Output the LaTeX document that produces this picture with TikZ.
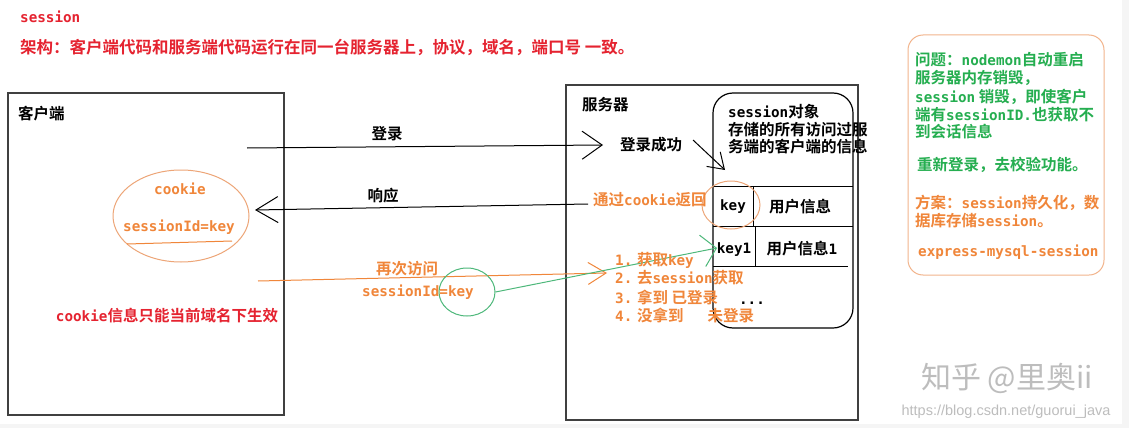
\documentclass[tikz,border=0pt]{standalone}
\usepackage{fontspec}
\setmainfont{Noto Sans CJK SC}[BoldFont={Noto Sans CJK SC Bold}]
\newfontfamily\mono{DejaVu Sans Mono}[Scale=0.92]
\newfontfamily\wmfont{Liberation Sans}
\usetikzlibrary{arrows.meta,shapes.geometric}
\definecolor{cred}{HTML}{E52330}
\definecolor{corg}{HTML}{F0863A}
\definecolor{cgrn}{HTML}{25AE50}
\definecolor{lgrn}{HTML}{4DB87A}
\definecolor{lorg}{HTML}{EDA577}
\definecolor{nbox}{HTML}{F2B48C}
\definecolor{wm}{HTML}{BDBDBD}
\newcommand\lt[1]{{\mono #1}}
\tikzset{
  txt/.style={inner sep=0pt, font=\bfseries\fontsize{15.5}{18}\selectfont},
  lft/.style={txt, anchor=west},
  frame/.style={draw=black!75, line width=1.2pt, inner sep=0pt},
  conn/.style={line width=1pt},
}
\begin{document}
\begin{tikzpicture}[x=1pt,y=-1pt]
\useasboundingbox (0,0) rectangle (1129,428);
\fill[white] (0,0) rectangle (1129,428);
\fill[black!4] (1122,0) rectangle (1129,428);
\fill[black!4] (0,424) rectangle (1129,428);

% header
\node[lft, text=cred] (sessT) at (20,17) {\lt{session}};
\node[lft, text=cred, font=\bfseries\fontsize{16.5}{18}\selectfont] (title) at (20,47)
  {架构：客户端代码和服务端代码运行在同一台服务器上，协议，域名，端口号 一致。};

% boxes
\node[frame, minimum width=276pt, minimum height=322pt] (client) at (146,254) {};
\node[frame, minimum width=292pt, minimum height=335pt] (server) at (712,252.5) {};
\node[draw, line width=1.2pt, rounded corners=20pt, minimum width=140pt, minimum height=235pt, inner sep=0pt] (sbox) at (783,210.5) {};

\node[lft] (lblC) at (18,114) {客户端};
\node[lft] (lblS) at (582,105) {服务器};

% session object text
\node[lft] (sA) at (728,112) {\lt{session}对象};
\node[lft] (sB) at (728,130) {存储的所有访问过服};
\node[lft] (sC) at (728,147) {务端的客户端的信息};

% table
\coordinate (r1L) at (713,186); \coordinate (r1R) at (853,186);
\coordinate (r2L) at (713,226); \coordinate (r2R) at (853,226);
\coordinate (r3L) at (713,266); \coordinate (r3R) at (848,266);
\coordinate (v1T) at (753,186); \coordinate (v1B) at (753,226);
\coordinate (v2T) at (755,226); \coordinate (v2B) at (755,266);
\draw[conn] (r1L) -- (r1R);
\draw[conn] (r2L) -- (r2R);
\draw[conn] (r3L) -- (r3R);
\draw[conn] (v1T) -- (v1B);
\draw[conn] (v2T) -- (v2B);
\node[txt] (key) at (733,207) {\lt{key}};
\node[txt] (info1) at (800,207) {用户信息};
\node[txt] (key1) at (734,250) {\lt{key1}};
\node[txt] (info2) at (802,249) {用户信息\lt{1}};
\node[txt] (dots) at (752,303) {\lt{...}};
\draw[lorg, line width=1pt] (731,205) ellipse [x radius=29pt, y radius=24pt];

% login
\node[txt] (loginL) at (387,134) {登录};
\coordinate (loginS) at (247,148);
\coordinate (loginT) at (603,145);
\draw[conn, -{Straight Barb[length=20pt,width=28pt]}] (loginS) -- (loginT);
\node[lft] (succ) at (620,145) {登录成功};
\coordinate (succS) at (693,140);
\coordinate (succT) at (725,170);
\draw[conn, -{Straight Barb[length=15pt,width=20pt]}] (succS) -- (succT);

% response
\node[lft, text=corg] (ret) at (593,200) {通过\lt{cookie}返回};
\node[txt] (respL) at (383,196) {响应};
\coordinate (respS) at (588,204);
\coordinate (respT) at (255,210);
\draw[conn, -{Straight Barb[length=22pt,width=26pt]}] (respS) -- (respT);

% cookie in client
\draw[lorg, line width=1pt] (181,216) ellipse [x radius=68pt, y radius=46pt];
\node[txt, text=corg] (ck) at (180,189) {\lt{cookie}};
\node[txt, text=corg] (sid) at (179,227) {\lt{sessionId=key}};
\coordinate (ulA) at (127,244);
\coordinate (ulB) at (232,241);
\draw[corg, line width=1pt] (ulA) -- (ulB);
\node[txt, text=cred] (note1) at (167,316) {\lt{cookie}信息只能当前域名下生效};

% second visit
\node[txt, text=corg] (again) at (407,269) {再次访问};
\node[txt, text=corg] (sid2) at (418,292) {\lt{sessionId=key}};
\coordinate (agS) at (258,281);
\coordinate (agT) at (607,273);
\draw[corg, line width=1pt, -{Straight Barb[length=18pt,width=22pt]}] (agS) -- (agT);
\node[draw=lgrn, line width=1pt, ellipse, minimum width=56pt, minimum height=48pt, inner sep=0pt] (gcirc) at (467,292) {};
\coordinate (gT) at (717,248);
\draw[lgrn, line width=1pt, -{Straight Barb[length=14pt,width=32pt]}] (gcirc.east) -- (gT);

% steps
\node[lft, text=corg] (st1) at (615,260) {\lt{1.} 获取\lt{key}};
\node[lft, text=corg] (st2) at (615,278) {\lt{2.} 去\lt{session}获取};
\node[lft, text=corg] (st3) at (615,297) {\lt{3.} 拿到 已登录};
\node[lft, text=corg] (st4) at (615,315) {\lt{4.} 没拿到\hspace{24pt}未登录};

% note box
\node[draw=nbox, line width=1pt, rounded corners=15pt, minimum width=196pt, minimum height=240pt, inner sep=0pt] (nbx) at (1006,155) {};
\node[lft, text=cgrn] (n1) at (915,60) {问题：\lt{nodemon}自动重启};
\node[lft, text=cgrn] (n2) at (915,78) {服务器内存销毁，};
\node[lft, text=cgrn] (n3) at (915,97) {\lt{session} 销毁，即使客户};
\node[lft, text=cgrn] (n4) at (915,115) {端有\lt{sessionID.}也获取不};
\node[lft, text=cgrn] (n5) at (915,132) {到会话信息};
\node[lft, text=cgrn] (n6) at (917,165) {重新登录，去校验功能。};
\node[lft, text=corg] (n7) at (915,203) {方案：\lt{session}持久化，数};
\node[lft, text=corg] (n8) at (915,221) {据库存储\lt{session}。};
\node[lft, text=corg] (n9) at (918,252) {\lt{express-mysql-session}};

% watermark
\node[inner sep=0pt, text=wm, font=\fontsize{30}{32}\selectfont] (wm1) at (1007,378) {知乎 @里奥ii};
\node[inner sep=0pt, text=wm, font=\wmfont\fontsize{14.5}{16}\selectfont] (wm2) at (1006,412) {https://blog.csdn.net/guorui\_java};
\end{tikzpicture}
\end{document}
